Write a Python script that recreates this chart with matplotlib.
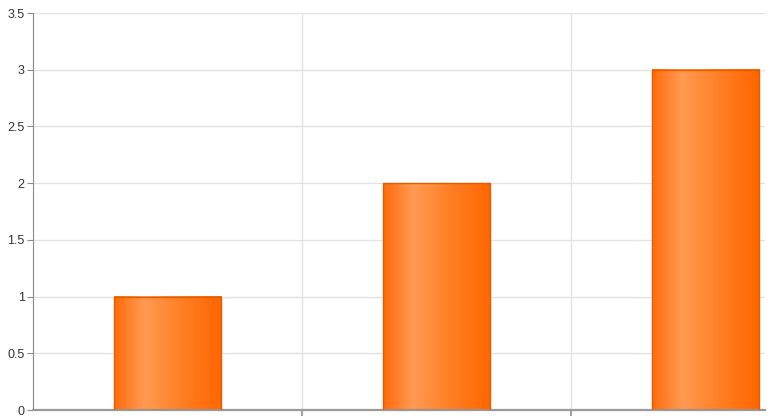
import matplotlib
matplotlib.use("Agg")
import matplotlib.pyplot as plt
import numpy as np
from matplotlib.colors import LinearSegmentedColormap

plt.rcParams["font.family"] = ["Liberation Sans", "DejaVu Sans"]

categories = ["A", "B", "C"]
values = [1, 2, 3]
y_ticks = [0, 0.5, 1, 1.5, 2, 2.5, 3, 3.5]

W, H = 770, 419
fig = plt.figure(figsize=(W / 100, H / 100), dpi=100)
ax = fig.add_axes([33 / W, 9 / H, 732 / W, 397 / H])

x = np.arange(len(categories))
bar_w = 0.40

# horizontal gradient like the original bars
grad = LinearSegmentedColormap.from_list(
    "bar", [(0.0, "#ff6a0a"), (0.28, "#ff9a52"), (0.65, "#ff7d22"), (1.0, "#ff6600")]
)
g = np.linspace(0, 1, 256).reshape(1, -1)

bars = ax.bar(x, values, width=bar_w, color="none", edgecolor="#e25c00", linewidth=1.0, zorder=3)
for b in bars:
    x0, y0 = b.get_x(), b.get_y()
    ax.imshow(g, cmap=grad, aspect="auto", extent=(x0, x0 + b.get_width(), y0, y0 + b.get_height()),
              zorder=2, interpolation="bilinear")

ax.set_xlim(-0.5, 2.221)
ax.set_ylim(0, 3.5)
ax.set_yticks(y_ticks)
ax.set_yticklabels(["0", "0.5", "1", "1.5", "2", "2.5", "3", "3.5"], fontsize=9, color="#333333")
ax.set_xticks(x[:-1] + 0.5)
ax.set_xticklabels([])

ax.grid(True, axis="both", color="#e2e2e2", linewidth=1.0, zorder=0)
ax.set_axisbelow(True)

for s in ("top", "right"):
    ax.spines[s].set_visible(False)
ax.spines["left"].set_color("#8a8a8a")
ax.spines["bottom"].set_color("#9a9a9a")
ax.spines["bottom"].set_linewidth(1.6)
ax.tick_params(axis="y", length=4, color="#8a8a8a", pad=2)
ax.tick_params(axis="x", length=4, width=1.5, color="#a0a0a0")

fig.savefig("out.png", dpi=100)
